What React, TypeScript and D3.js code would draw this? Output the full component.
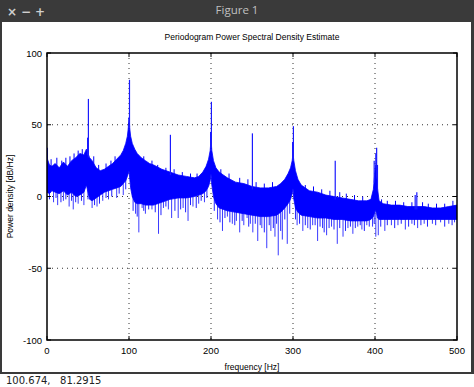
import React from 'react';
import * as d3 from 'd3';

// Envelope of the noisy periodogram band (Hz, dB/Hz)
const envFreq = [0,3,6,10,15,20,25,30,35,40,45,48,52,55,60,65,70,75,80,85,90,93,96,98,99,100,101,102,104,107,110,115,120,125,130,140,150,160,170,180,185,190,194,197,199,200,201,203,206,210,215,220,230,240,250,260,270,280,285,290,294,297,299,300,301,303,306,310,320,330,340,350,360,370,380,390,395,398,400,401,402,403,405,410,420,430,440,450,460,470,480,490,500];
const envTop = [27,22,21,23,20,24,21,25,27,30,29,33,27,25,20,18,19,21,23,26,29,32,37,42,47,55,47,42,37,33,30,27,25,23,22,19,17,15,14,13,14,17,21,26,32,40,32,25,20,17,15,13,10,9,7,6,6,7,9,12,16,20,25,30,25,18,12,8,4,3,1,0,-1,-2,-3,-3,-2,5,18,22,16,6,-3,-5,-6,-6,-7,-7,-7,-8,-8,-7,-6];
const envBottom = [3,2,4,3,2,4,1,3,0,1,3,8,-2,-3,-1,1,3,4,5,6,7,9,11,14,16,18,12,6,0,-4,-5,-5,-6,-6,-6,-4,-2,-1,-1,0,1,2,4,7,11,16,8,0,-5,-8,-9,-10,-11,-12,-13,-14,-14,-13,-11,-8,-5,-2,2,6,-2,-8,-11,-13,-14,-15,-15,-16,-16,-17,-17,-17,-16,-14,-10,-10,-12,-15,-16,-16,-16,-16,-16,-16,-16,-16,-16,-16,-16];

// Sharp upward spectral lines [Hz, dB/Hz]
const peaks: [number, number][] = [
  [0.5, 34], [49.5, 41], [50.5, 68], [99.5, 50], [100.6, 81.3], [150.5, 43],
  [199.5, 45], [200.5, 66], [250.5, 44], [299.5, 38], [300.5, 49], [351.5, 25],
  [399, 25], [401, 30], [402, 34], [403, 22], [449, 1], [451, 3],
];

// Small upward noise ripples above the band [Hz, dB/Hz]
const ripples: [number, number][] = [
  [5,26],[12,27],[18,25],[23,27],[28,28],[33,30],[38,32],[43,33],[57,28],[63,22],[72,23],[78,25],[83,28],
  [118,28],[128,25],[135,22],[145,20],[155,19],[165,17],[175,16],[183,16],
  [212,19],[222,16],[235,13],[245,12],[255,10],[265,9],[275,10],
  [315,8],[325,7],[335,5],[345,4],[357,3],[365,2],[375,1],[385,0],
  [408,-2],[415,-3],[425,-3],[435,-4],[445,-4],[458,-4],[465,-5],[475,-5],[485,-5],[495,-3],
];

// Downward noise dips [Hz, dB/Hz]
const dips: [number, number][] = [
  [8,-4],[13,-6],[20,-3],[27,-7],[32,-9],[38,-5],[45,-6],[55,-8],[61,-7],[68,-3],[75,-2],[85,-1],[93,1],
  [108,-12],[112,-25],[116,-8],[120,-12],[128,-9],[136,-26],[142,-8],[148,-9],[152,-15],[160,-15],[166,-8],[172,-17],[178,-7],[185,-5],[192,-4],
  [208,-16],[214,-24],[220,-14],[226,-19],[231,-17],[235,-25],[240,-20],[244,-15],[248,-19],[251,-25],[257,-31],[262,-22],[268,-36],[273,-24],[278,-28],[282,-41],[287,-30],[293,-33],
  [305,-20],[312,-24],[318,-22],[324,-20],[330,-31],[336,-22],[341,-27],[347,-21],[354,-33],[361,-28],[367,-22],[373,-26],[379,-21],[384,-23],[390,-20],
  [397,-21],[401,-28],[404,-27],[412,-24],[420,-20],[428,-20],[437,-23],[445,-19],[452,-22],[460,-19],[470,-19],[480,-18],[490,-19],[497,-18],
];

// Shallower dips along the lower edge [Hz, dB/Hz]
const shallowDips: [number, number][] = [
  [3,-2],[11,-1],[17,-4],[23,-2],[30,-3],[35,-4],[42,-3],[50,-2],[58,-6],[64,-5],[72,-1],[79,0],[88,2],[96,5],
  [105,-10],[110,-14],[118,-10],[124,-9],[132,-11],[139,-13],[145,-7],[156,-10],[163,-9],[169,-11],[175,-6],[182,-8],[188,-3],[195,-1],
  [204,-10],[211,-18],[217,-15],[223,-18],[229,-20],[238,-17],[246,-21],[254,-19],[260,-20],[265,-25],[271,-20],[276,-22],[280,-19],[285,-24],[290,-16],[296,-12],
  [303,-16],[308,-19],[315,-20],[321,-23],[327,-20],[333,-21],[338,-25],[344,-22],[350,-23],[357,-22],[364,-24],[370,-21],[376,-22],[382,-20],[387,-24],[393,-21],[399,-19],
  [407,-21],[415,-20],[424,-22],[432,-19],[441,-21],[448,-20],[456,-20],[464,-21],[474,-20],[485,-21],[494,-20],
];

const xTicks = [0, 100, 200, 300, 400, 500];
const yTicks = [-100, -50, 0, 50, 100];

const W = 474, H = 387;
const L = 47, R = 457, T = 53, B = 340;

export default function App() {
  const x = d3.scaleLinear().domain([0, 500]).range([L, R]);
  const y = d3.scaleLinear().domain([-100, 100]).range([B, T]);
  const topAt = d3.scaleLinear().domain(envFreq).range(envTop);
  const botAt = d3.scaleLinear().domain(envFreq).range(envBottom);

  const area = d3.area<number>()
    .x((_, i) => x(envFreq[i]))
    .y0((_, i) => y(envBottom[i]))
    .y1((_, i) => y(envTop[i]));
  const bandPath = area(envFreq) || '';

  const font = "'Liberation Sans', Arial, sans-serif";

  return (
    <div style={{ position: 'fixed', left: 0, top: 0 }}>
      <svg width={W} height={H} style={{ display: 'block' }}>
        <defs>
          <clipPath id="plotclip">
            <rect x={L} y={T} width={R - L} height={B - T} />
          </clipPath>
        </defs>
        {/* window frame */}
        <rect x={0} y={0} width={W} height={H} fill="#ffffff" />
        <rect x={0} y={0} width={W} height={22} fill="#3a3a3a" />
        <rect x={0} y={0} width={2} height={373} fill="#3a3a3a" />
        <rect x={471} y={0} width={3} height={373} fill="#3a3a3a" />
        <rect x={0} y={372} width={W} height={2} fill="#3a3a3a" />
        <text x={237} y={14} textAnchor="middle" fill="#c0c0c0" fontFamily="'Open Sans', 'DejaVu Sans', sans-serif" fontSize={11.5}>Figure 1</text>
        <text x={12} y={16} textAnchor="middle" fill="#cfcfcf" fontFamily="'DejaVu Sans', sans-serif" fontSize={12} fontWeight="bold">×</text>
        <text x={26} y={16} textAnchor="middle" fill="#cfcfcf" fontFamily="'DejaVu Sans', sans-serif" fontSize={12} fontWeight="bold">−</text>
        <text x={40} y={16} textAnchor="middle" fill="#cfcfcf" fontFamily="'DejaVu Sans', sans-serif" fontSize={12} fontWeight="bold">+</text>
        <text x={6} y={384} fill="#222" fontFamily="'DejaVu Sans', sans-serif" fontSize={10} style={{ whiteSpace: 'pre' }}>{'100.674,   81.2915'}</text>

        {/* grid */}
        {xTicks.slice(1, -1).map(t => (
          <line key={'gx' + t} x1={x(t)} x2={x(t)} y1={T} y2={B} stroke="#333" strokeWidth={1} strokeDasharray="1,4" />
        ))}
        {yTicks.slice(1, -1).map(t => (
          <line key={'gy' + t} x1={L} x2={R} y1={y(t)} y2={y(t)} stroke="#333" strokeWidth={1} strokeDasharray="1,4" />
        ))}

        {/* data */}
        <g clipPath="url(#plotclip)">
          {shallowDips.map(([f, v], i) => (
            <line key={'s' + i} x1={x(f)} x2={x(f)} y1={y(botAt(f) + 2)} y2={y(v)} stroke="#2020ff" strokeWidth={1} />
          ))}
          {dips.map(([f, v], i) => (
            <line key={'d' + i} x1={x(f)} x2={x(f)} y1={y(botAt(f) + 2)} y2={y(v)} stroke="#3a3aff" strokeWidth={1} />
          ))}
          <path d={bandPath} fill="#0000ff" stroke="#0000ff" strokeWidth={0.8} />
          {ripples.map(([f, v], i) => (
            <line key={'r' + i} x1={x(f)} x2={x(f)} y1={y(topAt(f) - 2)} y2={y(v)} stroke="#0000ff" strokeWidth={1} />
          ))}
          {peaks.map(([f, v], i) => (
            <line key={'p' + i} x1={x(f)} x2={x(f)} y1={y(topAt(f) - 2)} y2={y(v)} stroke="#1a1aff" strokeWidth={1.2} />
          ))}
        </g>

        {/* axes box */}
        <rect x={L} y={T} width={R - L} height={B - T} fill="none" stroke="#000" strokeWidth={1.5} />
        {xTicks.map(t => (
          <g key={'xt' + t}>
            <line x1={x(t)} x2={x(t)} y1={B} y2={B - 4} stroke="#000" strokeWidth={1} />
            <line x1={x(t)} x2={x(t)} y1={T} y2={T + 4} stroke="#000" strokeWidth={1} />
            <text x={x(t)} y={354} textAnchor="middle" fontFamily={font} fontSize={9.5} fill="#000">{t}</text>
          </g>
        ))}
        {yTicks.map(t => (
          <g key={'yt' + t}>
            <line x1={L} x2={L + 4} y1={y(t)} y2={y(t)} stroke="#000" strokeWidth={1} />
            <line x1={R} x2={R - 4} y1={y(t)} y2={y(t)} stroke="#000" strokeWidth={1} />
            <text x={42} y={y(t) + 3.5} textAnchor="end" fontFamily={font} fontSize={9.5} fill="#000">{t}</text>
          </g>
        ))}
        <text x={252} y={40} textAnchor="middle" fontFamily={font} fontSize={8.5} fill="#000">Periodogram Power Spectral Density Estimate</text>
        <text x={252} y={370} textAnchor="middle" fontFamily={font} fontSize={8.5} fill="#000">frequency [Hz]</text>
        <text transform={`translate(13,${y(0)}) rotate(-90)`} textAnchor="middle" fontFamily={font} fontSize={8.5} fill="#000">Power density [dB/Hz]</text>
      </svg>
    </div>
  );
}
